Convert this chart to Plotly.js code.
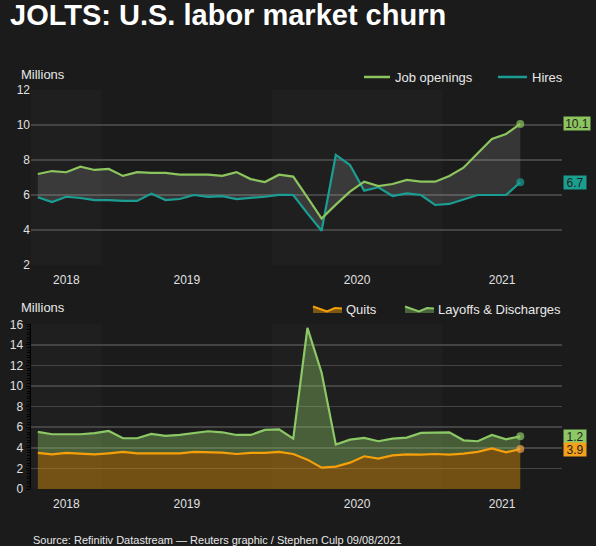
<!DOCTYPE html>
<html>
<head>
<meta charset="utf-8">
<script src="https://cdn.plot.ly/plotly-3.0.1.min.js"></script>
<style>
html,body{margin:0;padding:0;background:#1b1b1b;}
#chart{width:596px;height:546px;}
</style>
</head>
<body>
<div id="chart"></div>
<script>
// ---- data (millions), monthly, Aug 2018 - Jun 2021 ----
var months = ['2018-08','2018-09','2018-10','2018-11','2018-12',
  '2019-01','2019-02','2019-03','2019-04','2019-05','2019-06','2019-07','2019-08','2019-09','2019-10','2019-11','2019-12',
  '2020-01','2020-02','2020-03','2020-04','2020-05','2020-06','2020-07','2020-08','2020-09','2020-10','2020-11','2020-12',
  '2021-01','2021-02','2021-03','2021-04','2021-05','2021-06'];
var jobOpenings = [7.20,7.37,7.30,7.62,7.43,7.49,7.09,7.31,7.26,7.26,7.16,7.16,7.16,7.09,7.31,6.91,6.74,
  7.16,7.05,5.87,4.65,5.45,6.19,6.76,6.51,6.63,6.86,6.76,6.76,7.09,7.56,8.38,9.20,9.49,10.06];
var hires = [5.87,5.60,5.90,5.83,5.71,5.71,5.66,5.66,6.08,5.71,5.77,6.00,5.89,5.94,5.77,5.83,5.90,
  6.01,6.00,4.95,3.96,8.29,7.71,6.25,6.44,5.94,6.09,6.00,5.43,5.49,5.75,6.00,6.00,6.00,6.73];
var quits = [3.50,3.37,3.50,3.40,3.37,3.47,3.60,3.47,3.47,3.47,3.47,3.60,3.60,3.53,3.40,3.50,3.50,
  3.60,3.40,2.85,2.07,2.17,2.56,3.18,2.95,3.27,3.37,3.34,3.40,3.34,3.43,3.60,3.95,3.56,3.88];
var layoffs = [2.05,1.95,1.82,1.92,2.05,2.17,1.33,1.46,1.88,1.69,1.78,1.85,2.01,1.98,1.85,1.75,2.24,
  2.20,1.50,12.80,9.22,2.14,2.24,1.78,1.69,1.63,1.62,2.11,2.11,2.17,1.30,1.04,1.30,1.27,1.24];
var yearLabels = ['2018','2019','2020','2021'];

// ---- geometry helpers (page pixels -> paper) ----
var L = 31, R = 562, T = 90, B = 489;
function px(x){ return (x - L) / (R - L); }
function py(y){ return (B - y) / (B - T); }

var xRange = [-0.48, 36.94];
var xs = months.map(function(m, i){ return i; });
var n = months.length;
function lastDot(sz){ return months.map(function(m, i){ return i === n - 1 ? sz : 0; }); }

// year bands & label positions
var bands = yearLabels.map(function(yr, k){
  var idx = months.map(function(m, i){ return m.slice(0,4) === yr ? i : -1; }).filter(function(i){ return i >= 0; });
  var x0 = k === 0 ? xRange[0] : idx[0] - 0.5;
  var x1 = k === yearLabels.length - 1 ? xRange[1] : idx[idx.length - 1] + 0.5;
  return {x0: x0, x1: x1, mid: (x0 + x1) / 2};
});

var green = '#8cc55e', teal = '#1a9e93', orange = '#f5a00a', lgreen = '#8cc866';
var FONT = 'Liberation Sans, Arial, sans-serif';

var traces = [
  {x: xs, y: hires, xaxis: 'x', yaxis: 'y', mode: 'lines+markers', type: 'scatter',
   line: {color: teal, width: 2.2}, marker: {size: lastDot(8), color: teal, line: {width: 0}}, hoverinfo: 'skip'},
  {x: xs, y: jobOpenings, xaxis: 'x', yaxis: 'y', mode: 'lines+markers', type: 'scatter',
   fill: 'tonexty', fillcolor: 'rgba(255,255,255,0.12)',
   line: {color: green, width: 2.2}, marker: {size: lastDot(8), color: green, line: {width: 0}}, hoverinfo: 'skip'},
  {x: xs, y: quits, xaxis: 'x2', yaxis: 'y2', mode: 'lines+markers', type: 'scatter', stackgroup: 'a',
   fillcolor: 'rgba(245,160,10,0.40)',
   line: {color: orange, width: 2.2}, marker: {size: lastDot(8), color: '#f0a040', line: {width: 0}}, hoverinfo: 'skip'},
  {x: xs, y: layoffs, xaxis: 'x2', yaxis: 'y2', mode: 'lines+markers', type: 'scatter', stackgroup: 'a',
   fillcolor: 'rgba(140,200,102,0.38)',
   line: {color: lgreen, width: 2.2}, marker: {size: lastDot(8), color: lgreen, line: {width: 0}}, hoverinfo: 'skip'}
];

var shapes = [];
bands.forEach(function(b, k){
  if (k % 2 === 0) {
    ['y', 'y2'].forEach(function(ya){
      shapes.push({type: 'rect', xref: ya === 'y' ? 'x' : 'x2', yref: ya + ' domain',
        x0: b.x0, x1: b.x1, y0: 0, y1: 1, fillcolor: 'rgba(255,255,255,0.018)', line: {width: 0}, layer: 'below'});
    });
  }
});
// top legend line samples
shapes.push({type: 'line', xref: 'paper', yref: 'paper', x0: px(364), x1: px(390), y0: py(77), y1: py(77), line: {color: green, width: 2.5}});
shapes.push({type: 'line', xref: 'paper', yref: 'paper', x0: px(498), x1: px(527), y0: py(77), y1: py(77), line: {color: teal, width: 2.5}});
// bottom legend area icons
function areaIcon(x0, fill, line){
  var pts = [[0,306.5],[7,309],[14,311.5],[22,308],[29,308.5]];
  var d = 'M' + px(x0) + ',' + py(313);
  pts.forEach(function(p){ d += ' L' + px(x0 + p[0]) + ',' + py(p[1]); });
  d += ' L' + px(x0 + 29) + ',' + py(313) + ' Z';
  var dl = 'M' + px(x0) + ',' + py(pts[0][1]);
  pts.slice(1).forEach(function(p){ dl += ' L' + px(x0 + p[0]) + ',' + py(p[1]); });
  shapes.push({type: 'path', xref: 'paper', yref: 'paper', path: d, fillcolor: fill, line: {width: 0}});
  shapes.push({type: 'path', xref: 'paper', yref: 'paper', path: dl, line: {color: line, width: 2}});
}
areaIcon(313, 'rgba(245,160,10,0.45)', orange);
areaIcon(405, 'rgba(140,200,102,0.42)', lgreen);

function txt(t, x, y, size, opts){
  var a = {text: t, xref: 'paper', yref: 'paper', x: px(x), y: py(y), xanchor: 'left', yanchor: 'middle',
    showarrow: false, font: {family: FONT, size: size, color: '#e8e8e8'}};
  for (var k in opts) a[k] = opts[k];
  return a;
}
function valLabel(v, yref, yval, bg, w){
  return {text: v.toFixed(1), xref: 'paper', yref: yref, x: px(563), y: yval, xanchor: 'left', yanchor: 'middle',
    showarrow: false, bgcolor: bg, width: w, height: 11, borderpad: 1,
    font: {family: FONT, size: 12, color: '#222'}};
}

var annotations = [
  txt('Millions', 19, 75, 13),
  txt('Millions', 19, 307, 13),
  txt('Job openings', 393, 77, 13),
  txt('Hires', 530, 77, 13),
  txt('Quits', 344, 309, 13),
  txt('Layoffs &amp; Discharges', 436, 309, 13),
  txt('Source: Refinitiv Datastream \u2014 Reuters graphic / Stephen Culp 09/08/2021', 31, 540, 11),
  valLabel(jobOpenings[n-1], 'y', jobOpenings[n-1], '#8cc55e', 24),
  valLabel(hires[n-1], 'y', hires[n-1], '#1a9e8e', 20),
  valLabel(layoffs[n-1], 'y2', quits[n-1] + layoffs[n-1], '#8cc866', 20),
  valLabel(quits[n-1], 'y2', quits[n-1], '#f5a01a', 20)
];

var tickFont = {family: FONT, size: 12, color: '#e0e0e0'};
var xBase = {range: xRange, tickmode: 'array', tickvals: bands.map(function(b){ return b.mid; }), ticktext: yearLabels,
  showgrid: false, zeroline: false, showline: false, ticks: 'outside', ticklen: 4, tickcolor: 'rgba(0,0,0,0)',
  tickfont: tickFont, fixedrange: true};

var layout = {
  width: 596, height: 546,
  paper_bgcolor: '#1b1b1b', plot_bgcolor: '#1b1b1b',
  margin: {l: L, r: 596 - R, t: T, b: 546 - B},
  showlegend: false,
  title: {text: '<b>JOLTS: U.S. labor market churn</b>', xref: 'container', yref: 'container',
    x: 10 / 596, xanchor: 'left', y: 1 - 5 / 546, yanchor: 'top',
    font: {family: FONT, size: 29, color: '#ffffff'}},
  xaxis: Object.assign({}, xBase, {anchor: 'y', domain: [0, 1]}),
  xaxis2: Object.assign({}, xBase, {anchor: 'y2', domain: [0, 1]}),
  yaxis: {domain: [py(265), 1], range: [2, 12], dtick: 2, tick0: 0, gridcolor: '#444', gridwidth: 1.5,
    zeroline: false, showline: false, ticks: '', tickfont: tickFont, fixedrange: true},
  yaxis2: {domain: [0, py(324.3)], range: [0, 16], dtick: 2, tick0: 0, gridcolor: '#444', gridwidth: 1.5,
    zeroline: false, showline: true, linecolor: '#000', linewidth: 1.5,
    ticks: 'outside', ticklen: 4, tickcolor: '#000', tickwidth: 1,
    minor: {dtick: 0.25, ticks: 'outside', ticklen: 2.5, tickcolor: '#000', showgrid: false},
    tickfont: tickFont, fixedrange: true},
  shapes: shapes,
  annotations: annotations
};

Plotly.newPlot('chart', traces, layout, {staticPlot: true, displayModeBar: false});
</script>
</body>
</html>
